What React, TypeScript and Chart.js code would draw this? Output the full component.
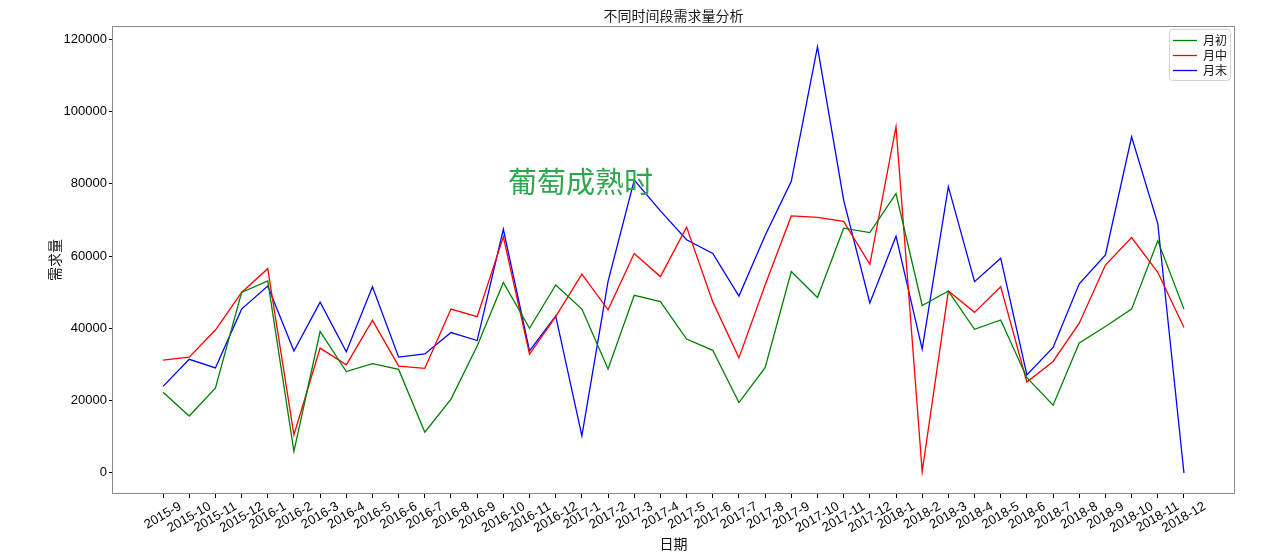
import React, { useEffect, useRef } from "react";
import { Chart, registerables } from "chart.js";

Chart.register(...registerables);

const months = [
  "2015-9", "2015-10", "2015-11", "2015-12",
  "2016-1", "2016-2", "2016-3", "2016-4", "2016-5", "2016-6", "2016-7", "2016-8", "2016-9", "2016-10", "2016-11", "2016-12",
  "2017-1", "2017-2", "2017-3", "2017-4", "2017-5", "2017-6", "2017-7", "2017-8", "2017-9", "2017-10", "2017-11", "2017-12",
  "2018-1", "2018-2", "2018-3", "2018-4", "2018-5", "2018-6", "2018-7", "2018-8", "2018-9", "2018-10", "2018-11", "2018-12",
];

// 月初
const earlyMonth = [
  22300, 15700, 23400, 49900,
  53100, 5900, 39100, 28000, 30200, 28600, 11200, 20400, 35100, 52700, 40000, 52000,
  45300, 28700, 49100, 47400, 37000, 33900, 19400, 29100, 55700, 48500, 67700, 66500,
  77300, 46300, 50300, 39700, 42300, 26300, 18700, 35900, 40500, 45300, 64200, 45300,
];

// 月中
const midMonth = [
  31200, 32000, 39500, 49900,
  56500, 10500, 34500, 29900, 42200, 29500, 28900, 45300, 43200, 65300, 32800, 43200,
  55000, 45100, 60700, 54300, 68000, 47300, 31800, 52000, 71100, 70700, 69600, 57700,
  95800, 300, 50300, 44400, 51500, 25100, 30800, 41400, 57500, 65100, 55500, 40200,
];

// 月末
const lateMonth = [
  23900, 31400, 29000, 45300,
  51700, 33700, 47200, 33500, 51500, 32000, 32900, 38800, 36600, 67400, 33700, 43400,
  10200, 53000, 81000, 72500, 64500, 60700, 48900, 65700, 80700, 117900, 75500, 47000,
  65500, 34200, 79200, 52900, 59400, 27100, 34700, 52300, 60300, 93000, 69000, -100,
];

const yTicks = [0, 20000, 40000, 60000, 80000, 100000, 120000];
const seriesNames = ["月初", "月中", "月末"];
const seriesColors = ["#008000", "#ff0000", "#0000ff"];
const titleText = "不同时间段需求量分析";
const xTitleText = "日期";
const yTitleText = "需求量";
const noteText = "葡萄成熟时";

export default function App() {
  const ref = useRef<HTMLCanvasElement>(null);

  useEffect(() => {
    if (!ref.current) return;
    const cjk = '"Noto Sans CJK SC", sans-serif';
    const latin = '"Liberation Sans", Arial, sans-serif';

    const overlay = {
      id: "overlay",
      afterDraw(chart: any) {
        const ctx = chart.ctx as CanvasRenderingContext2D;
        const a = chart.chartArea;
        const xs = chart.scales.x;
        ctx.save();

        // axes frame
        ctx.strokeStyle = "#8c8c8c";
        ctx.lineWidth = 1;
        ctx.strokeRect(Math.round(a.left) + 0.5, Math.round(a.top) + 0.5,
          Math.round(a.right - a.left) - 1, Math.round(a.bottom - a.top) - 1);

        // title
        ctx.fillStyle = "#1a1a1a";
        ctx.font = `14px ${cjk}`;
        ctx.textAlign = "center";
        ctx.textBaseline = "middle";
        ctx.fillText(titleText, (a.left + a.right) / 2, 16);

        // x tick labels (rotated 30°, centred on tick)
        ctx.font = `13px ${latin}`;
        ctx.fillStyle = "#000";
        const ang = -Math.PI / 6;
        months.forEach((m, i) => {
          const px = xs.getPixelForValue(i);
          const w = ctx.measureText(m).width;
          const H = w * Math.sin(Math.PI / 6) + 13 * Math.cos(Math.PI / 6);
          const cy = a.bottom + 6 + H / 2;
          ctx.save();
          ctx.translate(px, cy);
          ctx.rotate(ang);
          ctx.textAlign = "center";
          ctx.textBaseline = "middle";
          ctx.fillText(m, 0, 0);
          ctx.restore();
        });

        // axis titles
        ctx.font = `14px ${cjk}`;
        ctx.fillStyle = "#111";
        ctx.textAlign = "center";
        ctx.textBaseline = "middle";
        ctx.fillText(xTitleText, (a.left + a.right) / 2, 544);
        ctx.save();
        ctx.translate(55, (a.top + a.bottom) / 2);
        ctx.rotate(-Math.PI / 2);
        ctx.fillText(yTitleText, 0, 0);
        ctx.restore();

        // legend
        const lx = 1169, ly = 29, lw = 61, lh = 51;
        ctx.beginPath();
        ctx.roundRect(lx + 0.5, ly + 0.5, lw, lh, 3);
        ctx.fillStyle = "rgba(255,255,255,0.85)";
        ctx.fill();
        ctx.strokeStyle = "#d4d4d4";
        ctx.stroke();
        ctx.font = `12px ${cjk}`;
        ctx.textAlign = "left";
        ctx.textBaseline = "middle";
        seriesNames.forEach((n, k) => {
          const y = 40.5 + k * 15;
          ctx.strokeStyle = seriesColors[k];
          ctx.lineWidth = 1.3;
          ctx.beginPath();
          ctx.moveTo(1173, y);
          ctx.lineTo(1197, y);
          ctx.stroke();
          ctx.fillStyle = "#111";
          ctx.fillText(n, 1203, y);
        });

        // annotation text
        ctx.font = `29px ${cjk}`;
        ctx.fillStyle = "#2ea64e";
        ctx.textAlign = "left";
        ctx.textBaseline = "middle";
        ctx.fillText(noteText, 508, 182);

        ctx.restore();
      },
    };

    const mk = (vals: number[]) => vals.map((v, i) => ({ x: i, y: v }));

    const chart = new Chart(ref.current, {
      type: "line",
      data: {
        datasets: [earlyMonth, midMonth, lateMonth].map((vals, k) => ({
          label: seriesNames[k],
          data: mk(vals),
          borderColor: seriesColors[k],
          backgroundColor: seriesColors[k],
          borderWidth: 1.3,
          pointRadius: 0,
          tension: 0,
          fill: false,
        })),
      },
      options: {
        responsive: false,
        animation: false,
        events: [],
        layout: { padding: { left: 0, right: 43, top: 26, bottom: 0 } },
        plugins: {
          legend: { display: false },
          title: { display: false },
          tooltip: { enabled: false },
        },
        scales: {
          x: {
            type: "linear",
            min: -1.95,
            max: months.length - 1 + 1.95,
            afterBuildTicks: (s: any) => {
              s.ticks = months.map((_, i) => ({ value: i }));
            },
            afterFit: (s: any) => {
              s.height = 64;
            },
            border: { display: false },
            grid: {
              drawOnChartArea: false,
              drawTicks: true,
              tickLength: 4,
              color: "#000",
            },
            ticks: {
              autoSkip: false,
              maxRotation: 0,
              callback: () => "",
            },
          },
          y: {
            type: "linear",
            min: -5900,
            max: 123700,
            afterBuildTicks: (s: any) => {
              s.ticks = yTicks.map((v) => ({ value: v }));
            },
            afterFit: (s: any) => {
              s.width = 112;
            },
            border: { display: false },
            grid: {
              drawOnChartArea: false,
              drawTicks: true,
              tickLength: 3,
              color: "#000",
            },
            ticks: {
              autoSkip: false,
              padding: 2,
              color: "#000",
              font: { family: latin, size: 13 },
              callback: (v: any) => String(v),
            },
          },
        },
      },
      plugins: [overlay],
    });

    return () => chart.destroy();
  }, []);

  return (
    <div style={{ position: "absolute", left: 0, top: 0, width: 1278, height: 558, background: "#fff" }}>
      <canvas ref={ref} width={1278} height={558} style={{ display: "block" }} />
    </div>
  );
}
